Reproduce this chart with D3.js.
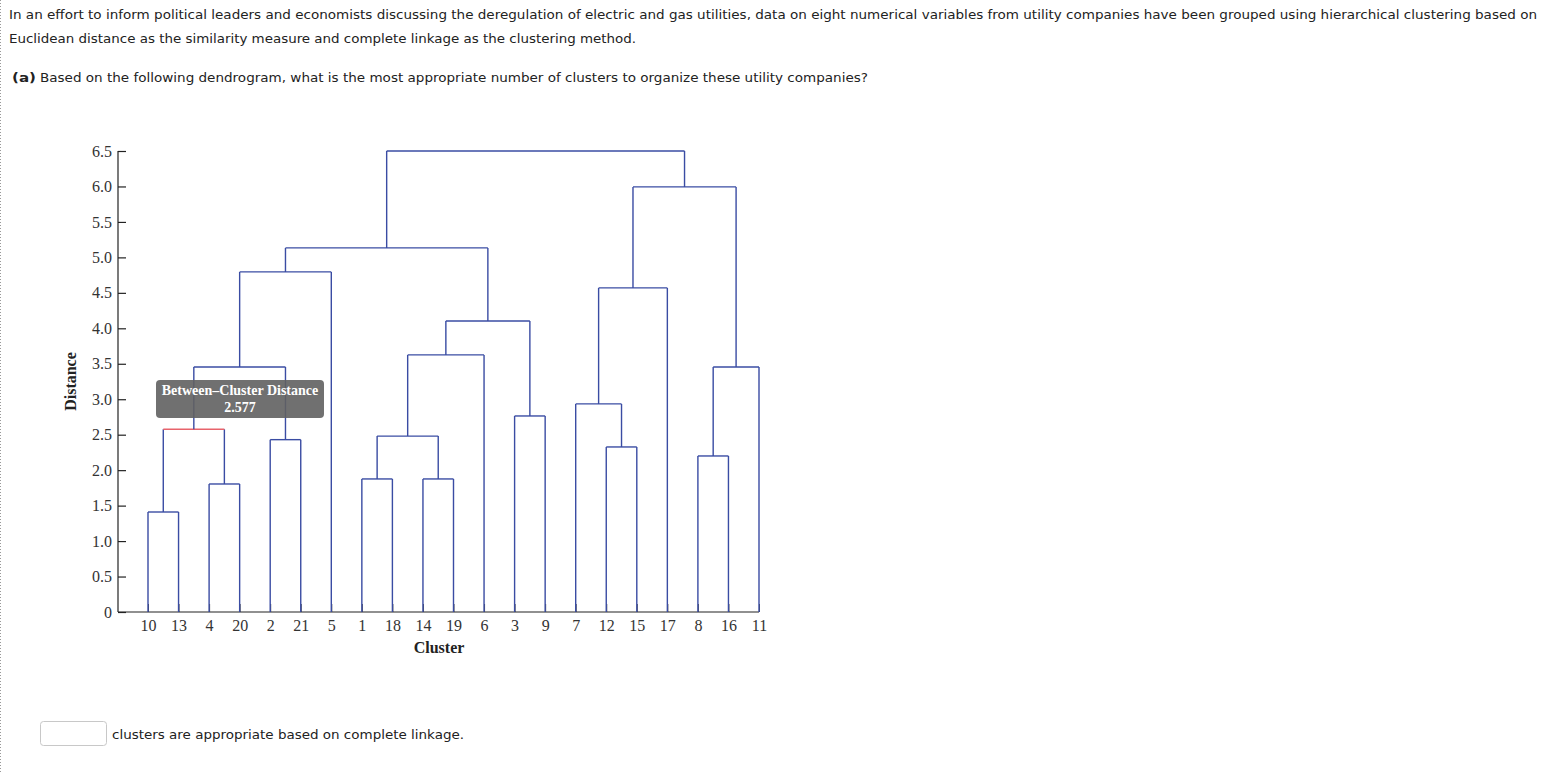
<!DOCTYPE html>
<html><head><meta charset="utf-8">
<script src="https://cdn.jsdelivr.net/npm/d3@7"></script>
<style>body{margin:0;background:#fff}svg{display:block}</style>
</head><body>
<svg id="c" width="1556" height="774"></svg>
<script>
// leaf order along the x axis
const leaves = ["10","13","4","20","2","21","5","1","18","14","19","6","3","9","7","12","15","17","8","16","11"];
// merges: [childA, childB, height]; children are leaf labels or merge ids "m#"
const merges = [
  ["10","13",1.41],   // m0
  ["4","20",1.805],   // m1
  ["m0","m1",2.577],  // m2 (highlighted)
  ["2","21",2.43],    // m3
  ["m2","m3",3.455],  // m4
  ["m4","5",4.795],   // m5
  ["1","18",1.876],   // m6
  ["14","19",1.876],  // m7
  ["m6","m7",2.48],   // m8
  ["m8","6",3.625],   // m9
  ["3","9",2.764],    // m10
  ["m9","m10",4.104], // m11
  ["m5","m11",5.134], // m12
  ["12","15",2.327],  // m13
  ["7","m13",2.934],  // m14
  ["m14","17",4.57],  // m15
  ["8","16",2.2],     // m16
  ["m16","11",3.455], // m17
  ["m15","m17",5.994],// m18
  ["m12","m18",6.5]   // m19
];
const highlighted = 2;
const yTicks = [0,0.5,1.0,1.5,2.0,2.5,3.0,3.5,4.0,4.5,5.0,5.5,6.0,6.5];
const tipLines = ["Between\u2013Cluster Distance","2.577"];

const svg = d3.select("#c");
const page = "'DejaVu Sans', Verdana, sans-serif";
const serif = "'Liberation Serif', 'Times New Roman', serif";

// left dotted border
svg.append("line").attr("x1",0.5).attr("x2",0.5).attr("y1",0).attr("y2",774)
  .attr("stroke","#9a9a9a").attr("stroke-dasharray","1,2");

svg.append("text").attr("x",9).attr("y",19).attr("font-family",page).attr("font-size",13).attr("fill","#222")
  .attr("textLength",1528).attr("lengthAdjust","spacingAndGlyphs")
  .text("In an effort to inform political leaders and economists discussing the deregulation of electric and gas utilities, data on eight numerical variables from utility companies have been grouped using hierarchical clustering based on");
svg.append("text").attr("x",9).attr("y",43).attr("font-family",page).attr("font-size",13).attr("fill","#222")
  .attr("textLength",627).attr("lengthAdjust","spacingAndGlyphs")
  .text("Euclidean distance as the similarity measure and complete linkage as the clustering method.");
svg.append("text").attr("x",12).attr("y",82).attr("font-family",page).attr("font-size",13).attr("fill","#222")
  .attr("font-weight","bold").attr("textLength",24).attr("lengthAdjust","spacingAndGlyphs").text("(a)");
svg.append("text").attr("x",40).attr("y",82).attr("font-family",page).attr("font-size",13).attr("fill","#222")
  .attr("textLength",828).attr("lengthAdjust","spacingAndGlyphs")
  .text("Based on the following dendrogram, what is the most appropriate number of clusters to organize these utility companies?");

// answer box
svg.append("rect").attr("x",40.5).attr("y",721.5).attr("width",66).attr("height",24).attr("rx",3)
  .attr("fill","#fff").attr("stroke","#c8c8c8");
svg.append("text").attr("x",112).attr("y",739).attr("font-family",page).attr("font-size",13).attr("fill","#222")
  .attr("textLength",352).attr("lengthAdjust","spacingAndGlyphs")
  .text("clusters are appropriate based on complete linkage.");

// scales
const x = d3.scalePoint().domain(leaves).range([148,759]);
const y = d3.scaleLinear().domain([0,6.5]).range([612,151]);
const axisLeftX = 118;

const g = svg.append("g");
// y axis
const ya = g.append("g").attr("transform",`translate(${axisLeftX},0)`)
  .call(d3.axisLeft(y).tickValues(yTicks).tickSize(-8).tickPadding(14)
    .tickFormat(d => d===0 ? "0" : d3.format(".1f")(d)));
ya.select(".domain").remove();
ya.selectAll(".tick line").attr("stroke","#222").attr("stroke-width",1.2);
ya.selectAll(".tick text").attr("font-family",serif).attr("font-size",16).attr("fill","#333").attr("x",-6);
g.append("line").attr("x1",axisLeftX).attr("x2",axisLeftX).attr("y1",y(6.5)).attr("y2",y(0))
  .attr("stroke","#222").attr("stroke-width",1.2);

// x axis
const xa = g.append("g").attr("transform",`translate(0,${y(0)})`)
  .call(d3.axisBottom(x).tickSize(-8).tickPadding(8));
xa.select(".domain").remove();
xa.selectAll(".tick line").attr("stroke","#444").attr("stroke-width",1);
xa.selectAll(".tick text").attr("font-family",serif).attr("font-size",16).attr("fill","#333");
g.append("line").attr("x1",axisLeftX).attr("x2",x(leaves[leaves.length-1])).attr("y1",y(0)).attr("y2",y(0))
  .attr("stroke","#222").attr("stroke-width",1.2);

// axis titles
g.append("text").attr("transform",`translate(76,${y(3.25)}) rotate(-90)`).attr("text-anchor","middle")
  .attr("font-family",serif).attr("font-weight","bold").attr("font-size",16).attr("fill","#222").text("Distance");
g.append("text").attr("x",439).attr("y",653).attr("text-anchor","middle")
  .attr("font-family",serif).attr("font-weight","bold").attr("font-size",16).attr("fill","#222").text("Cluster");

// dendrogram
const pos = {};
leaves.forEach(l => pos[l] = {x:x(l), h:0});
const blue = "#3a4ca3", red = "#e8636b";
const lg = g.append("g").attr("fill","none").attr("stroke-width",1.4);
merges.forEach((m,i) => {
  const a = pos[m[0]], b = pos[m[1]], h = m[2];
  const col = i===highlighted ? red : blue;
  lg.append("path").attr("stroke",blue)
    .attr("d",`M${a.x},${y(a.h)}V${y(h)}M${b.x},${y(b.h)}V${y(h)}`);
  lg.append("path").attr("stroke",col).attr("d",`M${a.x},${y(h)}H${b.x}`);
  pos["m"+i] = {x:(a.x+b.x)/2, h:h};
});

// tooltip
const tg = g.append("g");
tg.append("rect").attr("x",156).attr("y",380).attr("width",168).attr("height",38).attr("rx",4)
  .attr("fill","#606060").attr("opacity",0.9);
tipLines.forEach((t,i) => tg.append("text").attr("x",240).attr("y",395+i*17).attr("text-anchor","middle")
  .attr("font-family",serif).attr("font-weight","bold").attr("font-size",14).attr("fill","#fff").text(t));
</script>
</body></html>
